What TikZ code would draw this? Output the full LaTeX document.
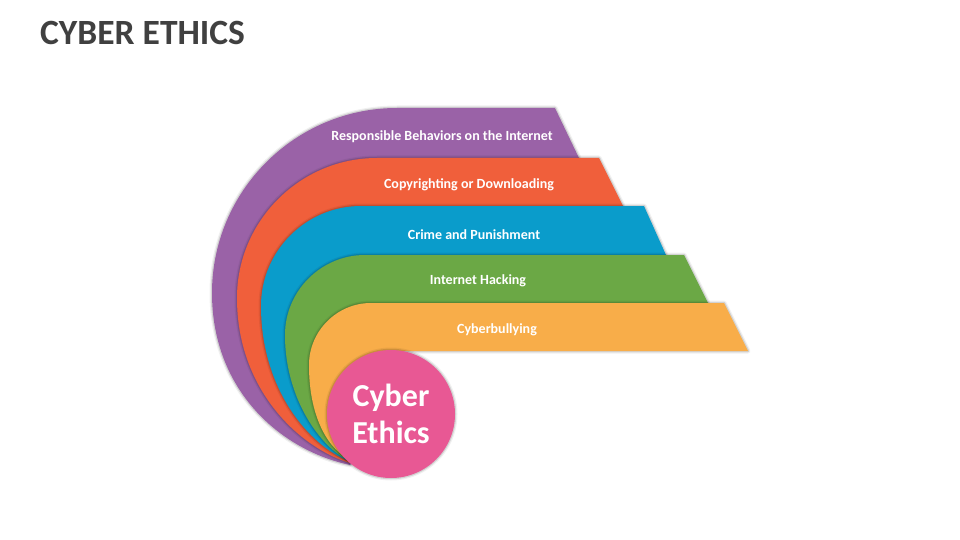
\documentclass[tikz,border=0pt]{standalone}
\usepackage{fontspec}
\setmainfont{Carlito}
\definecolor{cpurple}{HTML}{9A62A7}
\definecolor{corange}{HTML}{F05F3B}
\definecolor{cblue}{HTML}{0A9CCB}
\definecolor{cgreen}{HTML}{6BA845}
\definecolor{cyellow}{HTML}{F8AD49}
\definecolor{cpink}{HTML}{E85894}
\definecolor{ctitle}{HTML}{404040}
\begin{document}
\begin{tikzpicture}[x=1pt,y=-1pt,
  band/.style={fill=#1, line join=round,
    preaction={draw=black, opacity=0.06, line width=5pt, line join=round},
    preaction={draw=black, opacity=0.12, line width=2.5pt, line join=round}},
  bandlabel/.style={text=white, font=\bfseries\fontsize{14}{16}\selectfont, inner sep=0pt},
  hubstyle/.style={circle, fill=cpink, minimum size=128pt, inner sep=0pt, text=white,
    font=\bfseries\fontsize{32}{37.5}\selectfont, align=center,
    preaction={draw=black, opacity=0.06, line width=5pt},
    preaction={draw=black, opacity=0.12, line width=2.5pt}}]
\useasboundingbox (0,0) rectangle (960,540);
\fill[white] (0,0) rectangle (960,540);

\node[anchor=base west, inner sep=0pt, text=ctitle, font=\bfseries\fontsize{35.5}{40}\selectfont] (title) at (40,45) {CYBER ETHICS};

% bands, back to front
\path[band=cpurple] (350,465) .. controls (280,450) and (212,390) .. (212,293)
  .. controls (212,191) and (295,108) .. (397,108) -- (555,108) -- (579,158) -- (391,158) -- (391,414) -- cycle;
\path[band=corange] (350,463) .. controls (300,448) and (237,390) .. (237,298)
  .. controls (237,221) and (300,158) .. (377,158) -- (599,158) -- (623,206) -- (391,206) -- (391,414) -- cycle;
\path[band=cblue] (349,461) .. controls (310,446) and (261,390) .. (261,306)
  .. controls (261,251) and (306,206) .. (361,206) -- (644,206) -- (666,255) -- (391,255) -- (391,414) -- cycle;
\path[band=cgreen] (348,460) .. controls (322,448) and (285,400) .. (285,335)
  .. controls (285,291) and (321,255) .. (365,255) -- (684,255) -- (708,303) -- (391,303) -- (391,414) -- cycle;
\path[band=cyellow] (350,460) .. controls (330,450) and (309,420) .. (309,365)
  .. controls (309,331) and (337,303) .. (371,303) -- (724,303) -- (748,351) -- (391,351) -- (391,414) -- cycle;

\node[bandlabel] (l1) at (442,136.5) {Responsible Behaviors on the Internet};
\node[bandlabel] (l2) at (469,184.5) {Copyrighting or Downloading};
\node[bandlabel] (l3) at (474,234.5) {Crime and Punishment};
\node[bandlabel] (l4) at (478,280.5) {Internet Hacking};
\node[bandlabel] (l5) at (497,329.5) {Cyberbullying};

\node[hubstyle] (hub) at (391,414) {Cyber\\Ethics};
\end{tikzpicture}
\end{document}
